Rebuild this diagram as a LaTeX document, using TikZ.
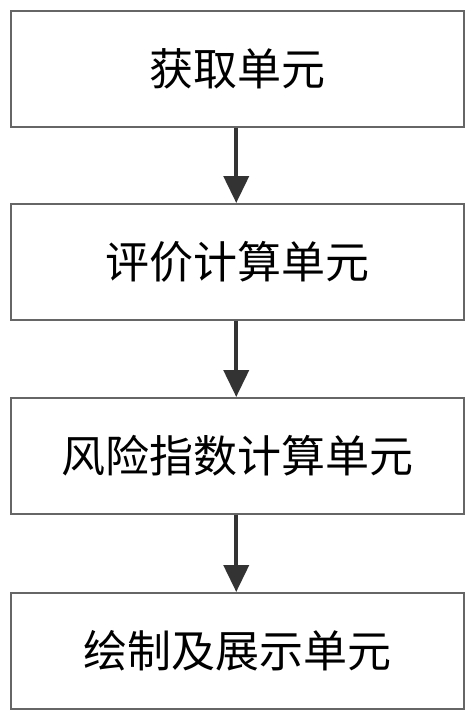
\documentclass[tikz,border=0pt]{standalone}
\usepackage{fontspec}
\newfontfamily\cjk{Noto Sans CJK SC}
\usetikzlibrary{arrows.meta}
\begin{document}
\begin{tikzpicture}[x=1pt,y=-1pt,
  unitbox/.style={draw=black!60,line width=1.5pt,minimum width=453pt,minimum height=116pt,inner sep=0pt,font=\cjk\fontsize{44}{44}\selectfont,anchor=north west},
  flowarrow/.style={draw=black!80,line width=4pt,-{Triangle[width=25pt,length=27pt]},shorten >=0pt}]
\useasboundingbox (0,0) rectangle (474,721);
\node[unitbox] (b1) at (10,10) {获取单元};
\node[unitbox] (b2) at (10,203) {评价计算单元};
\node[unitbox] (b3) at (10,397) {风险指数计算单元};
\node[unitbox] (b4) at (10,592) {绘制及展示单元};
\draw[flowarrow] ([xshift=-1pt]b1.south) -- ([xshift=-1pt]b2.north);
\draw[flowarrow] ([xshift=-1pt]b2.south) -- ([xshift=-1pt]b3.north);
\draw[flowarrow] ([xshift=-1pt]b3.south) -- ([xshift=-1pt]b4.north);
\end{tikzpicture}
\end{document}
